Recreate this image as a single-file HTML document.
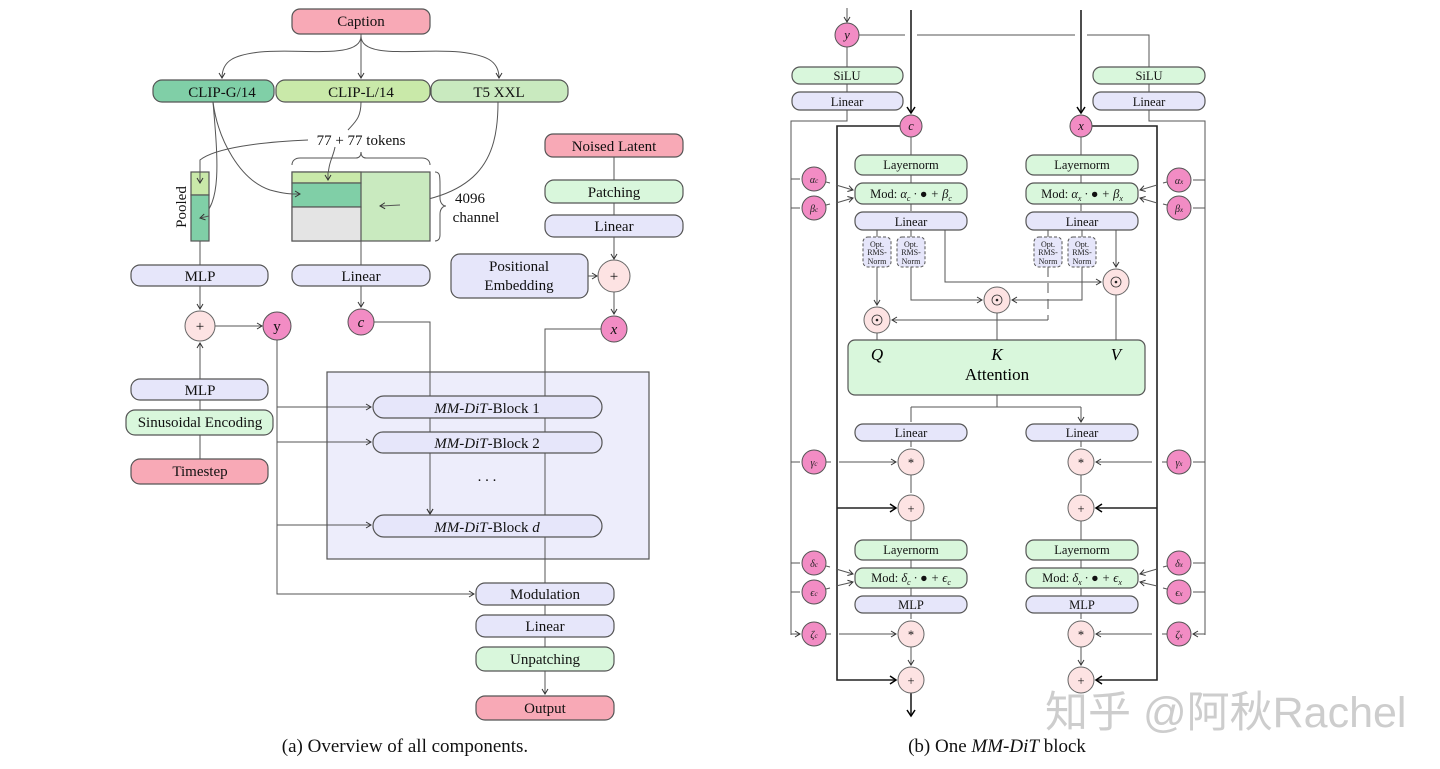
<!DOCTYPE html>
<html><head><meta charset="utf-8"><style>
html,body{margin:0;padding:0;background:#fff;}
svg{display:block;font-family:"Liberation Serif","Noto Serif CJK SC",serif;}
</style></head><body>
<svg width="1440" height="769" viewBox="0 0 1440 769" xmlns="http://www.w3.org/2000/svg">
<defs>
<marker id="a" markerWidth="8" markerHeight="8" refX="6" refY="4" orient="auto" markerUnits="userSpaceOnUse"><path d="M1,1 L6,4 L1,7" fill="none" stroke="#333" stroke-width="1"/></marker>
<marker id="ab" markerWidth="10" markerHeight="10" refX="7" refY="5" orient="auto" markerUnits="userSpaceOnUse"><path d="M1,1 L7,5 L1,9" fill="none" stroke="#000" stroke-width="1.5"/></marker>
</defs>
<style>
.b{stroke:#555;stroke-width:1.2}
.pk{fill:#f8a9b6}.lv{fill:#e6e6fa}.gr{fill:#d9f7dc}.cg{fill:#80cfa7}.cl{fill:#c9e9a9}.t5{fill:#c9eabf}
.ln{fill:none;stroke:#555;stroke-width:1}
.tk{fill:none;stroke:#222;stroke-width:1.6}
.t{font-size:15px;text-anchor:middle;fill:#111}
.s{font-size:12.5px;text-anchor:middle;fill:#111}
.m{fill:#f28cc4;stroke:#555;stroke-width:1}
.lp{fill:#fde3e3;stroke:#666;stroke-width:1}
</style>

<!-- ===== LEFT PANEL ===== -->
<path class="ln" d="M361,34 V78" marker-end="url(#a)"/>
<path class="ln" d="M361,36 C361,60 300,48 260,52 C235,55 222,60 222,78" marker-end="url(#a)"/>
<path class="ln" d="M361,36 C361,60 420,48 460,52 C485,55 499,60 499,78" marker-end="url(#a)"/>
<path class="ln" d="M361,102 C361,118 355,122 348,130"/>
<path class="ln" d="M308,140 C260,142 215,148 200,160 L200,183"/>
<path class="ln" d="M335,147 C333,158 328,162 328,180"/>
<path class="ln" d="M213,102 C218,160 222,205 200,218"/>
<path class="ln" d="M213,102 C218,140 240,180 270,190 C285,194 290,194 300,194"/>
<path class="ln" d="M498,102 C498,160 480,200 380,206"/>
<path class="ln" d="M292,165 C292,160 296,158 300,158 L356,158 C359,158 361,156 361,152 C361,156 363,158 366,158 L422,158 C426,158 430,160 430,165"/>
<path class="ln" d="M435,172 C440,172 440,176 440,185 L440,198 C440,203 443,206 446,206 C443,206 440,209 440,214 L440,235 C440,240 437,241 435,241"/>
<path class="ln" d="M200,241 V265"/>
<path class="ln" d="M361,241 V265"/>
<path class="ln" d="M200,286 V309" marker-end="url(#a)"/>
<path class="ln" d="M361,286 V307" marker-end="url(#a)"/>
<path class="ln" d="M215,326 H262" marker-end="url(#a)"/>
<path class="ln" d="M200,379 V343" marker-end="url(#a)"/>
<path class="ln" d="M200,400 V410 M200,435 V459"/>
<path class="ln" d="M614,157 V180 M614,203 V215 M614,237 V259" marker-end="url(#a)"/>
<path class="ln" d="M588,276 H597" marker-end="url(#a)"/>
<path class="ln" d="M614,292 V314" marker-end="url(#a)"/>
<path class="ln" d="M374,322 H430 V514"/>
<path class="ln" d="M601,329 H545 V583"/>
<path class="ln" d="M277,340 V594 H474" marker-end="url(#a)"/>

<rect x="327" y="372" width="322" height="187" fill="#ededfb" stroke="#555" stroke-width="1.2"/>
<path class="ln" d="M277,407 H371" marker-end="url(#a)"/>
<path class="ln" d="M277,442 H371" marker-end="url(#a)"/>
<path class="ln" d="M277,525 H371" marker-end="url(#a)"/>
<path class="ln" d="M430,372 V514" marker-end="url(#a)"/>
<path class="ln" d="M545,372 V583"/>
<rect x="373" y="396" width="229" height="22" rx="11" class="lv b"/>
<rect x="373" y="432" width="229" height="21" rx="10" class="lv b"/>
<rect x="373" y="515" width="229" height="22" rx="11" class="lv b"/>
<path class="ln" d="M430,453 V514" marker-end="url(#a)"/>
<text x="487" y="413" class="t"><tspan font-style="italic">MM-DiT</tspan>-Block 1</text>
<text x="487" y="448" class="t"><tspan font-style="italic">MM-DiT</tspan>-Block 2</text>
<text x="487" y="481" class="t">. . .</text>
<text x="487" y="532" class="t"><tspan font-style="italic">MM-DiT</tspan>-Block <tspan font-style="italic">d</tspan></text>

<rect x="292" y="9" width="138" height="25" rx="8" class="pk b"/>
<text x="361" y="26" class="t">Caption</text>
<rect x="153" y="80" width="121" height="22" rx="9" class="cg b"/>
<text x="222" y="97" class="t">CLIP-G/14</text>
<rect x="276" y="80" width="154" height="22" rx="9" class="cl b"/>
<text x="361" y="97" class="t">CLIP-L/14</text>
<rect x="431" y="80" width="137" height="22" rx="9" class="t5 b"/>
<text x="499" y="97" class="t">T5 XXL</text>
<text x="361" y="145" class="t">77 + 77 tokens</text>

<rect x="191" y="172" width="18" height="23" class="cl b"/>
<rect x="191" y="195" width="18" height="46" class="cg b"/>
<text x="186" y="207" class="t" transform="rotate(-90 186 207)">Pooled</text>

<rect x="292" y="172" width="138" height="69" fill="#c9eabf" class="b"/>
<rect x="292" y="172" width="69" height="11" class="cl b"/>
<rect x="292" y="183" width="69" height="24" class="cg b"/>
<rect x="292" y="207" width="69" height="34" fill="#e4e4e4" class="b"/>
<text x="470" y="203" class="t">4096</text>
<text x="476" y="222" class="t">channel</text>
<!-- arrow tips over rects -->
<path class="ln" d="M200,172 V183" marker-end="url(#a)"/>
<path class="ln" d="M209,216 L200,218" marker-end="url(#a)"/>
<path class="ln" d="M328,172 V180" marker-end="url(#a)"/>
<path class="ln" d="M292,194 H300" marker-end="url(#a)"/>
<path class="ln" d="M400,205 L380,206" marker-end="url(#a)"/>

<rect x="131" y="265" width="137" height="21" rx="9" class="lv b"/>
<text x="200" y="281" class="t">MLP</text>
<rect x="292" y="265" width="138" height="21" rx="9" class="lv b"/>
<text x="361" y="281" class="t">Linear</text>
<circle cx="200" cy="326" r="15" class="lp"/><text x="200" y="331" class="t">+</text>
<circle cx="277" cy="326" r="14" class="m"/><text x="277" y="331" class="t">y</text>
<circle cx="361" cy="322" r="13" class="m"/><text x="361" y="327" class="t" font-style="italic">c</text>

<rect x="131" y="379" width="137" height="21" rx="9" class="lv b"/>
<text x="200" y="395" class="t">MLP</text>
<rect x="126" y="410" width="147" height="25" rx="9" class="gr b"/>
<text x="200" y="427" class="t">Sinusoidal Encoding</text>
<rect x="131" y="459" width="137" height="25" rx="9" class="pk b"/>
<text x="200" y="476" class="t">Timestep</text>

<rect x="545" y="134" width="138" height="23" rx="8" class="pk b"/>
<text x="614" y="151" class="t">Noised Latent</text>
<rect x="545" y="180" width="138" height="23" rx="9" class="gr b"/>
<text x="614" y="197" class="t">Patching</text>
<rect x="545" y="215" width="138" height="22" rx="9" class="lv b"/>
<text x="614" y="231" class="t">Linear</text>
<rect x="451" y="254" width="137" height="44" rx="9" class="lv b"/>
<text x="519" y="271" class="t">Positional</text>
<text x="519" y="290" class="t">Embedding</text>
<circle cx="614" cy="276" r="16" class="lp"/><text x="614" y="281" class="t">+</text>
<circle cx="614" cy="329" r="13" class="m"/><text x="614" y="334" class="t" font-style="italic">x</text>

<path class="ln" d="M545,605 V615 M545,637 V647 M545,671 V694" marker-end="url(#a)"/>
<rect x="476" y="583" width="138" height="22" rx="9" class="lv b"/>
<text x="545" y="599" class="t">Modulation</text>
<rect x="476" y="615" width="138" height="22" rx="9" class="lv b"/>
<text x="545" y="631" class="t">Linear</text>
<rect x="476" y="647" width="138" height="24" rx="9" class="gr b"/>
<text x="545" y="664" class="t">Unpatching</text>
<rect x="476" y="696" width="138" height="24" rx="9" class="pk b"/>
<text x="545" y="713" class="t">Output</text>
<text x="405" y="752" font-size="19" text-anchor="middle" fill="#111">(a) Overview of all components.</text>

<!-- ===== RIGHT PANEL ===== -->
<path class="ln" d="M847,8 V22" marker-end="url(#a)"/>
<path class="ln" d="M859,35 H905 M917,35 H1075 M1087,35 H1149 V67"/>
<path class="ln" d="M847,47 V67 M847,84 V92"/>
<path class="ln" d="M1149,84 V92"/>
<path class="ln" d="M847,110 V121 H791 V635"/>
<path class="ln" d="M1149,110 V121 H1205 V635"/>
<path class="tk" d="M911,10 V113" marker-end="url(#ab)"/>
<path class="tk" d="M1081,10 V113" marker-end="url(#ab)"/>
<path class="tk" d="M900,126 H837 V680 H896" marker-end="url(#ab)"/>
<path class="tk" d="M837,508 H896" marker-end="url(#ab)"/>
<path class="tk" d="M1092,126 H1157 V680 H1096" marker-end="url(#ab)"/>
<path class="tk" d="M1157,508 H1096" marker-end="url(#ab)"/>
<path class="tk" d="M911,693 V716" marker-end="url(#ab)"/>

<g class="ln">
<path d="M791,179 H800 M791,208 H800 M791,462 H800 M791,563 H800 M791,592 H800 M791,634 H800" marker-end="url(#a)"/>
<path d="M1205,180 H1193 M1205,208 H1193 M1205,462 H1193 M1205,563 H1193 M1205,592 H1193 M1205,634 H1193" marker-end="url(#a)"/>
</g>
<path class="ln" d="M826,182 L830,183 M836,185 L853,190" marker-end="url(#a)"/>
<path class="ln" d="M826,205 L830,204 M836,203 L853,198" marker-end="url(#a)"/>
<path class="ln" d="M1167,182 L1163,183 M1157,185 L1140,190" marker-end="url(#a)"/>
<path class="ln" d="M1167,205 L1163,204 M1157,203 L1140,198" marker-end="url(#a)"/>
<path class="ln" d="M826,566 L830,567 M836,569 L853,574" marker-end="url(#a)"/>
<path class="ln" d="M826,589 L830,588 M836,586 L853,582" marker-end="url(#a)"/>
<path class="ln" d="M1167,566 L1163,567 M1157,569 L1140,574" marker-end="url(#a)"/>
<path class="ln" d="M1167,589 L1163,588 M1157,586 L1140,582" marker-end="url(#a)"/>
<path class="ln" d="M826,462 H831 M839,462 H896" marker-end="url(#a)"/>
<path class="ln" d="M826,634 H831 M839,634 H896" marker-end="url(#a)"/>
<path class="ln" d="M1167,462 H1162 M1152,462 H1096" marker-end="url(#a)"/>
<path class="ln" d="M1167,634 H1162 M1152,634 H1096" marker-end="url(#a)"/>

<path class="ln" d="M911,137 V155 M911,175 V183 M911,204 V211"/>
<path class="ln" d="M1081,137 V155 M1081,175 V183 M1081,204 V211"/>
<path class="ln" d="M877,230 V237 M911,230 V237 M1048,230 V237 M1082,230 V237"/>
<path class="ln" d="M877,267 V305" marker-end="url(#a)"/>
<path class="ln" d="M911,267 V300 H982" marker-end="url(#a)"/>
<path class="ln" d="M1082,267 V300 H1012" marker-end="url(#a)"/>
<path class="ln" d="M1048,267 V320" stroke-dasharray="10,6"/>
<path class="ln" d="M1048,320 H892" marker-end="url(#a)"/>
<path class="ln" d="M945,230 V282 H1101" marker-end="url(#a)"/>
<path class="ln" d="M1116,230 V267" marker-end="url(#a)"/>
<path class="ln" d="M877,333 V340 M997,313 V340 M1116,295 V340"/>
<path class="ln" d="M997,395 V407 M911,407 H1081 M911,407 V422 M1081,407 V422" marker-end="url(#a)"/>
<path class="ln" d="M911,441 V447 M911,475 V493 M911,521 V540 M911,560 V568 M911,588 V596 M911,613 V619 M911,647 V665" marker-end="url(#a)"/>
<path class="ln" d="M1081,441 V447 M1081,475 V493 M1081,521 V540 M1081,560 V568 M1081,588 V596 M1081,613 V619 M1081,647 V665" marker-end="url(#a)"/>

<rect x="792" y="67" width="111" height="17" rx="8" class="gr b"/><text x="847" y="80" class="s">SiLU</text>
<rect x="792" y="92" width="111" height="18" rx="8" class="lv b"/><text x="847" y="106" class="s">Linear</text>
<rect x="1093" y="67" width="112" height="17" rx="8" class="gr b"/><text x="1149" y="80" class="s">SiLU</text>
<rect x="1093" y="92" width="112" height="18" rx="8" class="lv b"/><text x="1149" y="106" class="s">Linear</text>
<circle cx="847" cy="35" r="12" class="m"/><text x="847" y="39" class="s" font-style="italic">y</text>
<circle cx="911" cy="126" r="11" class="m"/><text x="911" y="130" class="s" font-style="italic">c</text>
<circle cx="1081" cy="126" r="11" class="m"/><text x="1081" y="130" class="s" font-style="italic">x</text>

<g>
<rect x="855" y="155" width="112" height="20" rx="8" class="gr b"/><text x="911" y="169" class="s">Layernorm</text>
<rect x="855" y="183" width="112" height="21" rx="8" class="gr b"/><text x="911" y="198" class="s">Mod: <tspan font-style="italic">α<tspan font-size="8" dy="3">c</tspan><tspan dy="-3"> · ● + β</tspan><tspan font-size="8" dy="3">c</tspan></tspan></text>
<rect x="855" y="212" width="112" height="18" rx="8" class="lv b"/><text x="911" y="226" class="s">Linear</text>
<rect x="1026" y="155" width="112" height="20" rx="8" class="gr b"/><text x="1082" y="169" class="s">Layernorm</text>
<rect x="1026" y="183" width="112" height="21" rx="8" class="gr b"/><text x="1082" y="198" class="s">Mod: <tspan font-style="italic">α<tspan font-size="8" dy="3">x</tspan><tspan dy="-3"> · ● + β</tspan><tspan font-size="8" dy="3">x</tspan></tspan></text>
<rect x="1026" y="212" width="112" height="18" rx="8" class="lv b"/><text x="1082" y="226" class="s">Linear</text>
</g>
<g font-size="8" text-anchor="middle" fill="#222">
<rect x="863" y="237" width="28" height="30" rx="5" fill="#e6e6fa" stroke="#555" stroke-dasharray="3,2"/>
<text x="877" y="247">Opt.</text><text x="877" y="255">RMS-</text><text x="877" y="264">Norm</text>
<rect x="897" y="237" width="28" height="30" rx="5" fill="#e6e6fa" stroke="#555" stroke-dasharray="3,2"/>
<text x="911" y="247">Opt.</text><text x="911" y="255">RMS-</text><text x="911" y="264">Norm</text>
<rect x="1034" y="237" width="28" height="30" rx="5" fill="#e6e6fa" stroke="#555" stroke-dasharray="3,2"/>
<text x="1048" y="247">Opt.</text><text x="1048" y="255">RMS-</text><text x="1048" y="264">Norm</text>
<rect x="1068" y="237" width="28" height="30" rx="5" fill="#e6e6fa" stroke="#555" stroke-dasharray="3,2"/>
<text x="1082" y="247">Opt.</text><text x="1082" y="255">RMS-</text><text x="1082" y="264">Norm</text>
</g>
<g>
<circle cx="877" cy="320" r="13" class="lp"/><circle cx="877" cy="320" r="5" fill="none" stroke="#333" stroke-width=".8"/><circle cx="877" cy="320" r="1.3" fill="#222"/>
<circle cx="997" cy="300" r="13" class="lp"/><circle cx="997" cy="300" r="5" fill="none" stroke="#333" stroke-width=".8"/><circle cx="997" cy="300" r="1.3" fill="#222"/>
<circle cx="1116" cy="282" r="13" class="lp"/><circle cx="1116" cy="282" r="5" fill="none" stroke="#333" stroke-width=".8"/><circle cx="1116" cy="282" r="1.3" fill="#222"/>
</g>
<rect x="848" y="340" width="297" height="55" rx="7" class="gr b"/>
<text x="877" y="360" font-size="17" font-style="italic" text-anchor="middle">Q</text>
<text x="997" y="360" font-size="17" font-style="italic" text-anchor="middle">K</text>
<text x="1116" y="360" font-size="17" font-style="italic" text-anchor="middle">V</text>
<text x="997" y="380" font-size="17" text-anchor="middle">Attention</text>

<rect x="855" y="424" width="112" height="17" rx="8" class="lv b"/><text x="911" y="437" class="s">Linear</text>
<rect x="1026" y="424" width="112" height="17" rx="8" class="lv b"/><text x="1082" y="437" class="s">Linear</text>
<rect x="855" y="540" width="112" height="20" rx="8" class="gr b"/><text x="911" y="554" class="s">Layernorm</text>
<rect x="855" y="568" width="112" height="20" rx="8" class="gr b"/><text x="911" y="582" class="s">Mod: <tspan font-style="italic">δ<tspan font-size="8" dy="3">c</tspan><tspan dy="-3"> · ● + ϵ</tspan><tspan font-size="8" dy="3">c</tspan></tspan></text>
<rect x="855" y="596" width="112" height="17" rx="8" class="lv b"/><text x="911" y="609" class="s">MLP</text>
<rect x="1026" y="540" width="112" height="20" rx="8" class="gr b"/><text x="1082" y="554" class="s">Layernorm</text>
<rect x="1026" y="568" width="112" height="20" rx="8" class="gr b"/><text x="1082" y="582" class="s">Mod: <tspan font-style="italic">δ<tspan font-size="8" dy="3">x</tspan><tspan dy="-3"> · ● + ϵ</tspan><tspan font-size="8" dy="3">x</tspan></tspan></text>
<rect x="1026" y="596" width="112" height="17" rx="8" class="lv b"/><text x="1082" y="609" class="s">MLP</text>

<g>
<circle cx="911" cy="462" r="13" class="lp"/><text x="911" y="467" class="s">*</text>
<circle cx="911" cy="508" r="13" class="lp"/><text x="911" y="513" class="s">+</text>
<circle cx="911" cy="634" r="13" class="lp"/><text x="911" y="639" class="s">*</text>
<circle cx="911" cy="680" r="13" class="lp"/><text x="911" y="685" class="s">+</text>
<circle cx="1081" cy="462" r="13" class="lp"/><text x="1081" y="467" class="s">*</text>
<circle cx="1081" cy="508" r="13" class="lp"/><text x="1081" y="513" class="s">+</text>
<circle cx="1081" cy="634" r="13" class="lp"/><text x="1081" y="639" class="s">*</text>
<circle cx="1081" cy="680" r="13" class="lp"/><text x="1081" y="685" class="s">+</text>
</g>
<g font-size="10" font-style="italic" text-anchor="middle" fill="#222">
<circle cx="814" cy="179" r="12" class="m"/><text x="814" y="183">α<tspan font-size="7">c</tspan></text>
<circle cx="814" cy="208" r="12" class="m"/><text x="814" y="212">β<tspan font-size="7">c</tspan></text>
<circle cx="814" cy="462" r="12" class="m"/><text x="814" y="466">γ<tspan font-size="7">c</tspan></text>
<circle cx="814" cy="563" r="12" class="m"/><text x="814" y="567">δ<tspan font-size="7">c</tspan></text>
<circle cx="814" cy="592" r="12" class="m"/><text x="814" y="596">ϵ<tspan font-size="7">c</tspan></text>
<circle cx="814" cy="634" r="12" class="m"/><text x="814" y="638">ζ<tspan font-size="7">c</tspan></text>
<circle cx="1179" cy="180" r="12" class="m"/><text x="1179" y="184">α<tspan font-size="7">x</tspan></text>
<circle cx="1179" cy="208" r="12" class="m"/><text x="1179" y="212">β<tspan font-size="7">x</tspan></text>
<circle cx="1179" cy="462" r="12" class="m"/><text x="1179" y="466">γ<tspan font-size="7">x</tspan></text>
<circle cx="1179" cy="563" r="12" class="m"/><text x="1179" y="567">δ<tspan font-size="7">x</tspan></text>
<circle cx="1179" cy="592" r="12" class="m"/><text x="1179" y="596">ϵ<tspan font-size="7">x</tspan></text>
<circle cx="1179" cy="634" r="12" class="m"/><text x="1179" y="638">ζ<tspan font-size="7">x</tspan></text>
</g>

<text x="1045" y="727" font-size="43" fill="#c8c8c8" font-family="'Liberation Sans','Noto Sans CJK SC',sans-serif" opacity="0.9">知乎 @阿秋Rachel</text>
<text x="997" y="752" font-size="19" text-anchor="middle" fill="#111">(b) One <tspan font-style="italic">MM-DiT</tspan> block</text>
</svg>
</body></html>
